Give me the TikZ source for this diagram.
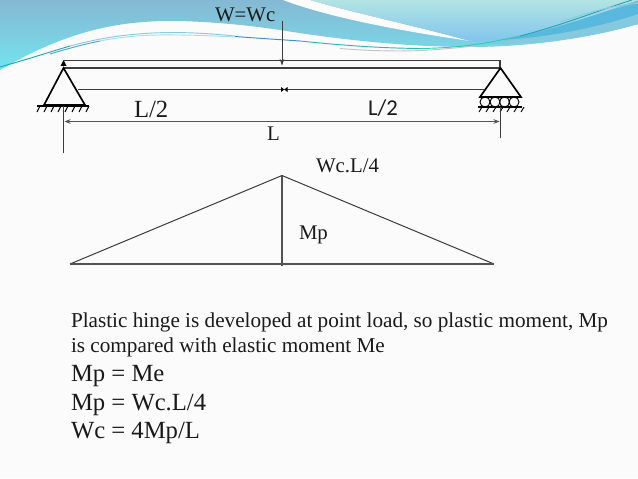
\documentclass[tikz,border=0pt]{standalone}
\usepackage{fontspec}
\setmainfont{Liberation Serif}
\newfontfamily\calib{Carlito}
\usetikzlibrary{arrows.meta}
\definecolor{inkc}{HTML}{1A1A1A}
\definecolor{bandtop}{HTML}{85B9D3}
\definecolor{bandmid}{HTML}{7DCDE0}
\definecolor{bandlow}{HTML}{6FE6EE}
\definecolor{lighttop}{HTML}{B2E4E2}
\definecolor{lightlow}{HTML}{80C4EE}
\definecolor{rband}{HTML}{58B8DE}
\definecolor{rbandb}{HTML}{84C9DE}
\definecolor{swgreen}{HTML}{2FCDB8}
\definecolor{swteal}{HTML}{1FA6B0}
\definecolor{swblue}{HTML}{3F8FD0}
\definecolor{swlight}{HTML}{86CBE2}
\definecolor{swgrey}{HTML}{C4C4C4}
\tikzset{
  txt/.style={anchor=base west,inner sep=0pt,outer sep=0pt,text=inkc},
  body/.style={txt,font=\fontsize{15.9}{18}\selectfont},
  big/.style={txt,font=\fontsize{18.5}{22}\selectfont},
  lab/.style={txt,font=\fontsize{15.6}{18}\selectfont},
  thinl/.style={draw=inkc!85,line width=0.85pt},
  thickl/.style={draw=black,line width=1.25pt,line join=miter},
  hatch/.style={draw=black,line width=0.7pt},
  dim/.style={draw=inkc!75,line width=1.1pt},
  swoosh/.style={line width=0.7pt}
}
\begin{document}
\begin{tikzpicture}[x=0.75pt,y=-0.75pt]
\useasboundingbox (0,0) rectangle (638,478);
\fill[black!1.5!white] (0,0) rectangle (638,478);
% main band
\shade[top color=bandtop,bottom color=bandlow,middle color=bandmid] (0,0) -- (638,0) -- (638,24)
  .. controls (590,38) and (530,47) .. (470,47)
  .. controls (400,47) and (330,38) .. (280,30)
  .. controls (240,24) and (200,21) .. (170,21)
  .. controls (110,21) and (60,35) .. (0,70) -- cycle;
% right darker bands
\fill[rbandb] (470,44) .. controls (540,40) and (600,20) .. (638,5) -- (638,24)
  .. controls (590,38) and (530,45) .. (470,44) -- cycle;
\fill[rband] (500,40) .. controls (550,30) and (600,12) .. (638,3) -- (638,14)
  .. controls (590,30) and (540,38) .. (500,40) -- cycle;
% white swoosh
\fill[black!1.5!white] (283,0) .. controls (320,14) and (380,28) .. (470,41)
  .. controls (420,27) and (350,12) .. (310,0) -- cycle;
% light region
\shade[top color=lighttop,bottom color=lightlow] (310,0)
  .. controls (350,12) and (420,27) .. (470,41)
  .. controls (520,42) and (580,20) .. (638,0) -- cycle;
% thin lines
\draw[swoosh,swteal] (0,67) .. controls (25,60) and (40,55) .. (70,46);
\draw[swoosh,swblue!70!swlight] (50,54) .. controls (70,48) and (85,44) .. (100,41);
\draw[swoosh,swlight] (70,46) .. controls (100,38) and (130,33) .. (170,32.5) .. controls (195,32.5) and (215,34) .. (235,36);
\draw[swoosh,swlight!70!white] (100,41) .. controls (125,36) and (150,34.5) .. (175,35) .. controls (195,35) and (215,36) .. (235,37);
\draw[swoosh,swblue] (235,36.5) .. controls (255,38) and (270,39) .. (300,41);
\draw[swoosh,swteal!50!swgreen] (300,41) .. controls (330,44) and (370,48) .. (420,48.5);
\draw[swoosh,swgreen] (420,48.5) .. controls (455,48) and (480,45) .. (520,36);
\draw[swoosh,swteal] (520,36) .. controls (560,26) and (600,10) .. (632,0);
\draw[swoosh,swlight] (560,22) .. controls (590,12) and (615,5) .. (638,3);
\draw[swoosh,swgrey] (340,48.5) .. controls (370,51) and (400,51.5) .. (420,50.5) .. controls (440,49.5) and (455,48) .. (475,46);
% beam
\coordinate (bl) at (63.5,60.5); \coordinate (br) at (500,60.5);
\coordinate (ml) at (63.5,68); \coordinate (mr) at (500,68);
\coordinate (nl) at (78,89.5); \coordinate (nr) at (484,89.5);
\draw[thinl] (bl) -- (br) -- (mr);
\draw[thinl] (ml) -- (mr);
\draw[thinl] (nl) -- (nr);
\fill[black] (60.5,66) -- (63.5,60) -- (66.5,66) -- cycle;
% bowtie hinge
\fill[black] (281,87) -- (284.3,89.5) -- (281,92) -- cycle;
\fill[black] (287.5,87) -- (284.3,89.5) -- (287.5,92) -- cycle;
% left support
\coordinate (ta) at (63.5,68); \coordinate (tb) at (44,105); \coordinate (tc) at (85,105);
\draw[thickl] (ta) -- (tb) -- (tc) -- cycle;
\draw[hatch,line width=0.9pt] (37,106) -- (89,106);
\foreach \x in {40,47,54,61,68,75,82,89}{ \draw[hatch] (\x,106) -- (\x-3,112); }
% right support
\coordinate (ua) at (500.5,68); \coordinate (ub) at (480,97); \coordinate (uc) at (521,97);
\draw[thickl] (ua) -- (ub) -- (uc) -- cycle;
\foreach \x in {485,495,504.5,514}{ \draw[black,line width=0.7pt] (\x,102) circle[radius=5]; }
\draw[hatch,line width=0.9pt] (478,107) -- (522,107);
\foreach \x in {482,489,496,503,510,517,524}{ \draw[hatch] (\x,107) -- (\x-3,112); }
% dimension
\coordinate (dl) at (64.5,121.5); \coordinate (dr) at (499.5,121.5);
\coordinate (vl1) at (63.5,106); \coordinate (vl2) at (63.5,153);
\coordinate (vr1) at (500.5,107); \coordinate (vr2) at (500.5,138);
\draw[thinl] (vl1) -- (vl2);
\draw[thinl] (vr1) -- (vr2);
\draw[dim,{Stealth[length=4.5pt,width=3.5pt]}-{Stealth[length=4.5pt,width=3.5pt]}] (dl) -- (dr);
% load
\coordinate (la) at (282,21); \coordinate (lb) at (282,65.5);
\draw[thinl,line width=0.6pt,-{Stealth[length=5pt,width=3.5pt]}] (la) -- (lb);
% moment diagram
\coordinate (m1) at (70,264); \coordinate (m2) at (282,175.5); \coordinate (m3) at (494,264); \coordinate (m4) at (282,266);
\draw[thinl,line width=0.75pt,line join=round] (m1) -- (m2) -- (m3);
\draw[dim,line width=0.95pt] (m1) -- (m3);
\draw[dim,line width=0.95pt] (m2) -- (m4);
% labels
\node[lab] (wwc) at (215,22) {W=Wc};
\node[big] (l2a) at (134,117) {L/2};
\node[txt,font=\calib\fontsize{17}{19}\selectfont] (l2b) at (368,115) {L/2};
\node[lab] (ll) at (267,140) {L};
\node[lab] (wcl) at (316,172) {Wc.L/4};
\node[lab] (mp) at (299,239) {Mp};
\node[body] (t1) at (71,327) {Plastic hinge is developed at point load, so plastic moment, Mp};
\node[body] (t2) at (71,352) {is compared with elastic moment Me};
\node[big] (t3) at (71,381) {Mp = Me};
\node[big] (t4) at (71,410) {Mp = Wc.L/4};
\node[big] (t5) at (71,438.5) {Wc = 4Mp/L};
\end{tikzpicture}
\end{document}
